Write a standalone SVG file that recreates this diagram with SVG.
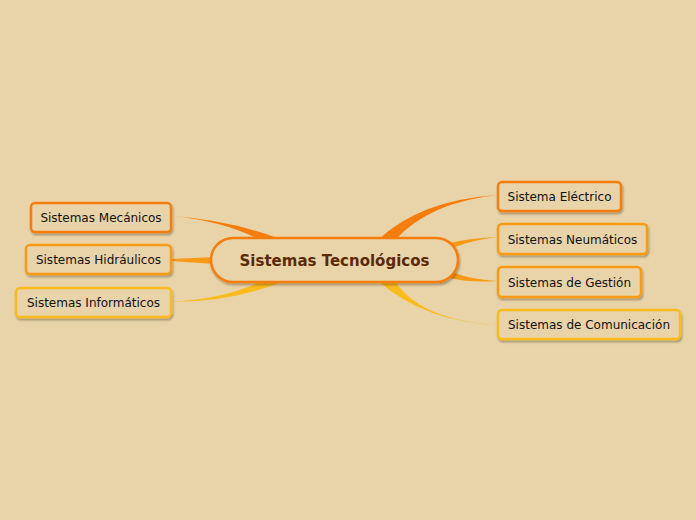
<svg xmlns="http://www.w3.org/2000/svg" width="696" height="520" viewBox="0 0 696 520">
<defs>
<style>
text{font-family:"DejaVu Sans",Verdana,sans-serif;font-size:12px;fill:#111}
.n{fill:#e9d3a8;stroke-width:2.5}
.o1{stroke:#f57d0e}.o2{stroke:#f99a16}.o3{stroke:#fbbb1c}
.f1{fill:#f57d0e}.f2{fill:#f99a16}.f3{fill:#fbbb1c}
</style>
<filter id="sh" x="-10%" y="-10%" width="130%" height="140%"><feDropShadow dx="1" dy="2" stdDeviation="1" flood-color="#000" flood-opacity="0.3"/></filter>
</defs>
<rect width="696" height="520" fill="#e8d4a8"/>
<g id="connectors">
<path class="f1" d="M262,241 Q225,221 171,216 Q230,220 280,239 Z"/>
<path class="f2" d="M215,257 L171,259 L171,261 L215,264 Z"/>
<path class="f3" d="M262,281 Q225,299 171,302 Q230,302 282,282 Z"/>
<path class="f1" d="M378,240 Q420,200 498,195 Q430,202 395,240 Z"/>
<path class="f2" d="M450,243 Q470,238 498,237 Q472,240 452,248 Z"/>
<path class="f2" d="M452,272 Q472,280 498,281 Q470,283 450,278 Z"/>
<path class="f3" d="M378,281 Q425,322 498,325 Q420,320 395,281 Z"/>
</g>
<g id="center"><rect class="n o1" x="211" y="238" width="247" height="44" rx="22" filter="url(#sh)"/><text x="334.5" y="266" text-anchor="middle" style="font-size:15px;font-weight:bold;fill:#5a2a06">Sistemas Tecnológicos</text></g>
<g id="mecanicos"><rect class="n o1" x="31" y="203" width="140" height="29" rx="4" filter="url(#sh)"/><text x="101" y="222" text-anchor="middle">Sistemas Mecánicos</text></g>
<g id="hidraulicos"><rect class="n o2" x="26" y="245" width="145" height="29" rx="4" filter="url(#sh)"/><text x="98.5" y="264" text-anchor="middle">Sistemas Hidráulicos</text></g>
<g id="informaticos"><rect class="n o3" x="16" y="288" width="155" height="29" rx="4" filter="url(#sh)"/><text x="93.5" y="307" text-anchor="middle">Sistemas Informáticos</text></g>
<g id="electrico"><rect class="n o1" x="498" y="182" width="123" height="29" rx="4" filter="url(#sh)"/><text x="559.5" y="201" text-anchor="middle">Sistema Eléctrico</text></g>
<g id="neumaticos"><rect class="n o2" x="498" y="224" width="149" height="30" rx="4" filter="url(#sh)"/><text x="572.5" y="244" text-anchor="middle">Sistemas Neumáticos</text></g>
<g id="gestion"><rect class="n o2" x="498" y="267" width="143" height="30" rx="4" filter="url(#sh)"/><text x="569.5" y="287" text-anchor="middle">Sistemas de Gestión</text></g>
<g id="comunicacion"><rect class="n o3" x="498" y="310" width="182" height="29" rx="4" filter="url(#sh)"/><text x="589" y="329" text-anchor="middle">Sistemas de Comunicación</text></g>
</svg>
